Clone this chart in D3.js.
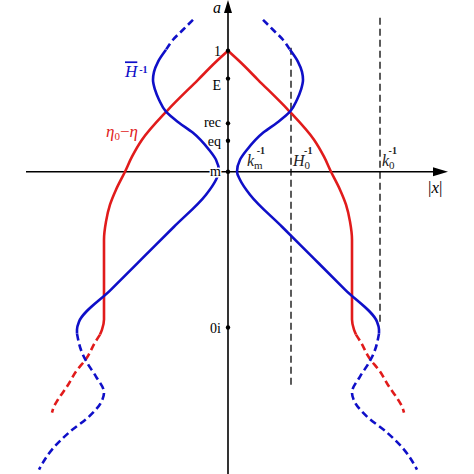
<!DOCTYPE html>
<html>
<head>
<meta charset="utf-8">
<script src="https://cdn.jsdelivr.net/npm/d3@7/dist/d3.min.js"></script>
<style>
  body { margin: 0; background: #fff; }
  text { font-family: "Liberation Serif", "Times New Roman", serif; }
</style>
</head>
<body>
<svg id="chart" width="474" height="474"></svg>
<script>
// curves are symmetric in |x|, so only the right half is stored (d = |x|, a = level)
var redSolidD = [0, 0.06, 0.15, 0.30, 0.43, 0.48, 0.515, 0.56, 0.59, 0.61, 0.62, 0.62, 0.62, 0.63, 0.64];
var redSolidA = [1.0, 0.909, 0.760, 0.512, 0.264, 0.124, 0, -0.149, -0.273, -0.413, -0.562, -0.893, -1.223, -1.306, -1.347];
var redDashD = [0.64, 0.665, 0.705, 0.76, 0.805, 0.85, 0.87, 0.88];
var redDashA = [-1.347, -1.413, -1.537, -1.653, -1.777, -1.884, -1.942, -1.992];

var blueTopD = [0.175, 0.225, 0.275, 0.31];
var blueTopA = [1.256, 1.174, 1.091, 1.008];
var blueSolidD = [0.31, 0.35, 0.37, 0.375, 0.365, 0.345, 0.31, 0.245, 0.175, 0.095, 0.06, 0.045, 0.06, 0.11, 0.27, 0.43, 0.585, 0.745, 0.755, 0.755];
var blueSolidA = [1.008, 0.909, 0.826, 0.760, 0.678, 0.595, 0.496, 0.405, 0.322, 0.182, 0.099, 0, -0.066, -0.190, -0.455, -0.719, -0.975, -1.240, -1.306, -1.339];
var blueBotD = [0.755, 0.73, 0.705, 0.66, 0.62, 0.635, 0.695, 0.795, 0.88, 0.945];
var blueBotA = [-1.339, -1.496, -1.579, -1.694, -1.826, -1.909, -2.025, -2.157, -2.298, -2.463];

var tickNames = ['1', 'E', 'rec', 'eq', 'm', '0i'];
var tickLevels = [1, 0.77, 0.40, 0.256, 0, -1.289];

var guideNames = ['H0', 'k0'];
var guideD = [0.315, 0.76];
var guideTop = [1.025, 1.273];
var guideBottom = [-1.777, -1.264];

var RED = '#e11b1b', BLUE = '#0f0fc8';

var svg = d3.select('#chart');
var x = d3.scaleLinear().domain([-1.14, 1.23]).range([0, 474]);
var y = d3.scaleLinear().domain([1.42, -2.5]).range([0, 474]);
var x0 = x(0), y0 = y(0);

function pts(ds, as, side) {
    return ds.map(function (d, i) { return [side * d, as[i]]; });
}
var line = d3.line()
    .x(function (p) { return x(p[0]); })
    .y(function (p) { return y(p[1]); })
    .curve(d3.curveMonotoneY);

var curves = [
    { d: redSolidD, a: redSolidA, c: RED, dash: null },
    { d: redDashD, a: redDashA, c: RED, dash: '7,4' },
    { d: blueTopD, a: blueTopA, c: BLUE, dash: '7,4' },
    { d: blueSolidD, a: blueSolidA, c: BLUE, dash: null },
    { d: blueBotD, a: blueBotA, c: BLUE, dash: '7,4' }
];

// dashed guides (right side only)
svg.selectAll('line.guide').data(guideD).enter().append('line')
    .attr('class', 'guide')
    .attr('x1', function (d) { return x(d); })
    .attr('x2', function (d) { return x(d); })
    .attr('y1', function (d, i) { return y(guideTop[i]); })
    .attr('y2', function (d, i) { return y(guideBottom[i]); })
    .style('stroke', '#333')
    .style('stroke-width', 1.6)
    .style('stroke-dasharray', '7,4');

// axes
svg.append('line').attr('x1', x(-1.01)).attr('x2', x(1.05)).attr('y1', y0).attr('y2', y0)
    .style('stroke', '#000').style('stroke-width', 1.6);
svg.append('line').attr('x1', x0).attr('x2', x0).attr('y1', 474).attr('y2', 8)
    .style('stroke', '#000').style('stroke-width', 1.6);
svg.append('path')
    .attr('d', 'M' + x0 + ',0L' + (x0 - 4) + ',13L' + (x0 + 4) + ',13Z')
    .style('fill', '#000');
var xe = x(1.1);
svg.append('path')
    .attr('d', 'M' + xe + ',' + y0 + 'L' + (xe - 15) + ',' + (y0 - 4.5) + 'L' + (xe - 15) + ',' + (y0 + 4.5) + 'Z')
    .style('fill', '#000');

// curves, mirrored
[1, -1].forEach(function (side) {
    curves.forEach(function (c) {
        svg.append('path')
            .attr('d', line(pts(c.d, c.a, side)))
            .style('fill', 'none')
            .style('stroke', c.c)
            .style('stroke-width', 2.6)
            .style('stroke-dasharray', c.dash);
    });
});

// tick dots and level labels
svg.selectAll('circle.tick').data(tickLevels).enter().append('circle')
    .attr('class', 'tick')
    .attr('cx', x0).attr('cy', function (d) { return y(d); })
    .attr('r', 2.2).style('fill', '#000');

var labelDy = { '1': 5, 'E': 11, 'rec': 4, 'eq': 5, 'm': 4, '0i': 5 };
svg.selectAll('text.level').data(tickNames).enter().append('text')
    .attr('class', 'level')
    .attr('x', x0 - 7)
    .attr('y', function (d, i) { return y(tickLevels[i]) + labelDy[d]; })
    .attr('text-anchor', 'end')
    .style('font-size', '14px')
    .style('paint-order', 'stroke')
    .style('stroke', function (d) { return d === 'm' ? '#fff' : 'none'; })
    .style('stroke-width', 3)
    .text(function (d) { return d; });

// axis names
svg.append('text').attr('x', x0 - 15).attr('y', 13)
    .style('font-size', '16px').style('font-style', 'italic').text('a');
svg.append('text').attr('x', x(1.0)).attr('y', y0 + 21)
    .style('font-size', '17px').style('fill', '#000')
    .call(function (t) {
        t.append('tspan').text('|');
        t.append('tspan').style('font-style', 'italic').text('x');
        t.append('tspan').text('|');
    });

// inverse-scale labels on the x axis
function invLabel(px, base, sub, color) {
    var t = svg.append('text').attr('x', px).attr('y', y0 - 6)
        .style('font-size', '16px').style('fill', color || '#222');
    t.append('tspan').style('font-style', 'italic').text(base);
    t.append('tspan').attr('dy', 3).style('font-size', '11px').text(sub);
    t.append('tspan').attr('dx', -6).attr('dy', -15).style('font-size', '10px').style('font-weight', 'bold').text('-1');
    return t;
}
invLabel(x(0.095), 'k', 'm');
guideNames.forEach(function (n, i) {
    invLabel(x(guideD[i]) + 2, n.charAt(0) === 'H' ? 'H' : 'k', n.charAt(1));
});

// curve names
var hl = svg.append('text').attr('x', x(-0.515)).attr('y', y(0.78))
    .style('font-size', '17px').style('fill', BLUE);
hl.append('tspan').style('font-style', 'italic').style('text-decoration', 'overline').text('H');
hl.append('tspan').attr('dx', 2).attr('dy', -4).style('font-size', '10px').style('font-weight', 'bold').text('-1');

var el = svg.append('text').attr('x', x(-0.61)).attr('y', y(0.29))
    .style('font-size', '17px').style('fill', RED);
el.append('tspan').style('font-style', 'italic').text('η');
el.append('tspan').attr('dy', 3).style('font-size', '11px').text('0');
el.append('tspan').attr('dy', -3).text('−');
el.append('tspan').style('font-style', 'italic').text('η');
</script>
</body>
</html>
